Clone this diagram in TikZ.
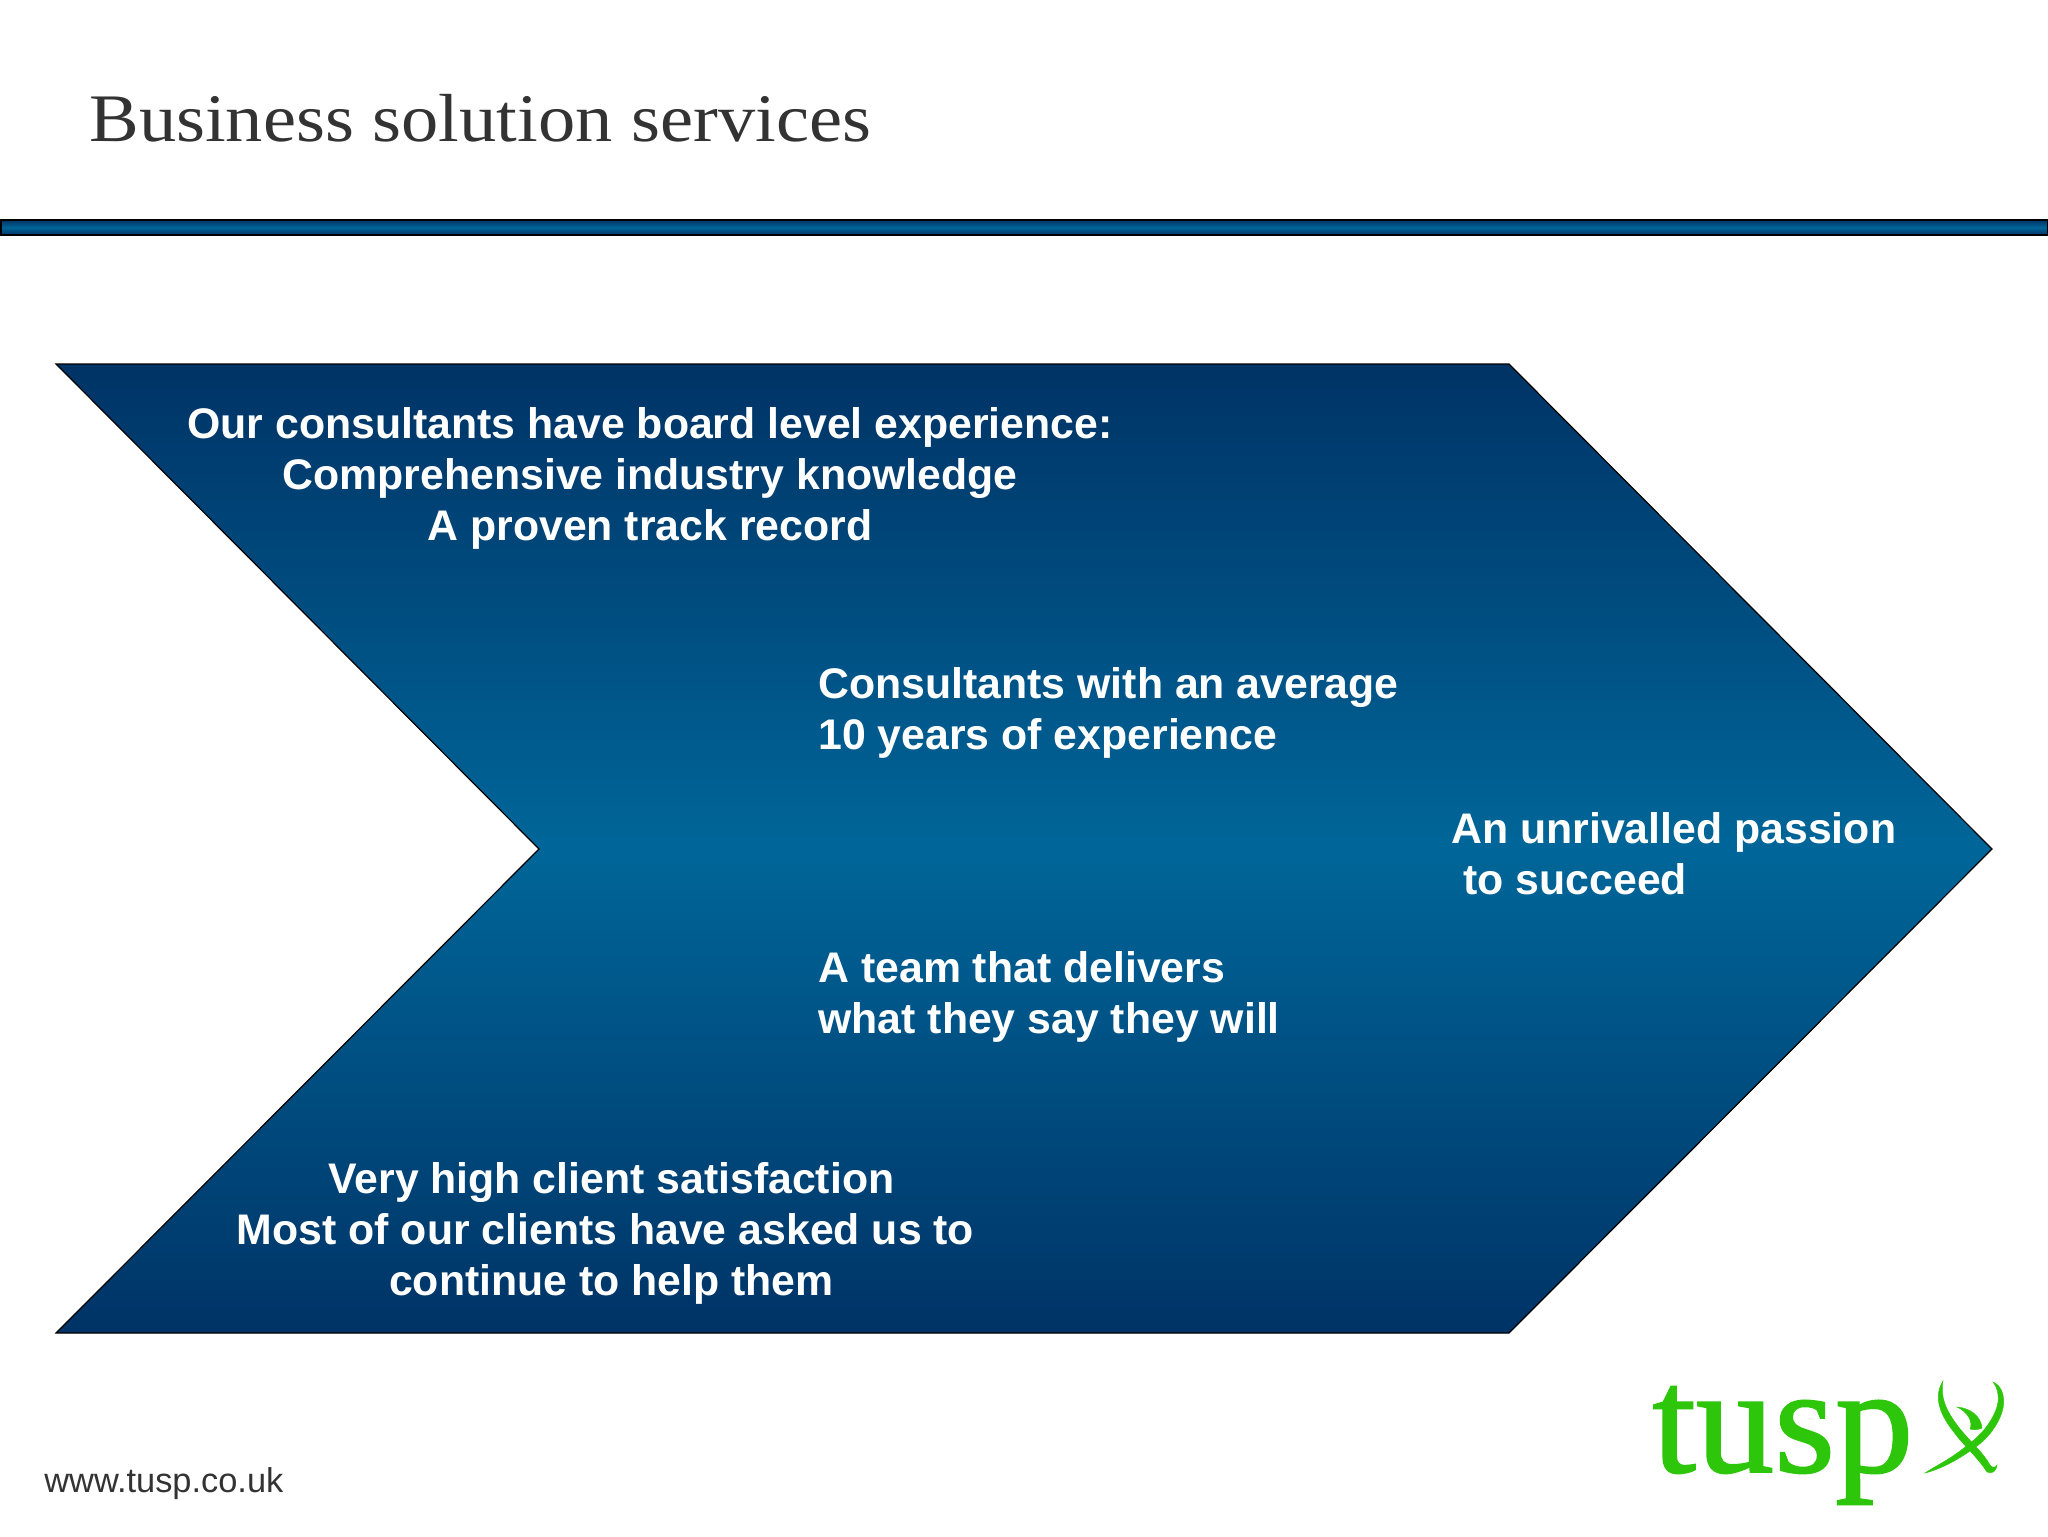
\documentclass[tikz,border=0pt]{standalone}
\usepackage{fontspec}
\setmainfont{Liberation Sans}
\newfontfamily\serifface[FakeStretch=1.095]{Liberation Serif}
\newfontfamily\logoface[FakeStretch=1.03,FakeBold=1.2]{Liberation Serif}
\definecolor{deepblue}{HTML}{003366}
\definecolor{midblue}{HTML}{006699}
\definecolor{logogreen}{HTML}{2DC60A}
\definecolor{titlegrey}{HTML}{333333}
\tikzset{
  x=0.5pt,y=-0.5pt,
  bodytext/.style={text=white,font=\fontsize{21.4}{25.5}\selectfont\bfseries,inner sep=0pt},
  leftblock/.style={bodytext,align=left,anchor=west},
  midblock/.style={bodytext,align=center,anchor=center},
  bladeshape/.style={draw=logogreen,line width=0.2pt,fill=logogreen}
}
\begin{document}
\begin{tikzpicture}
\useasboundingbox (0,0) rectangle (2048,1536);
\fill[white] (0,0) rectangle (2048,1536);
\node[anchor=base west,inner sep=0pt,text=titlegrey,font=\serifface\fontsize{34}{40}\selectfont] (title) at (89,141) {Business solution services};
\shade[top color=deepblue,bottom color=deepblue,middle color=midblue,shading angle=0] (0,220) rectangle (2048,235);
\draw[black,line width=1pt] (0.5,220) rectangle (2047.5,235);
\draw[black,line width=0.6pt,top color=deepblue,bottom color=deepblue,middle color=midblue]
  (56,364) -- (1509,364) -- (1992,849) -- (1509,1333) -- (56,1333) -- (539,849) -- cycle;
\node[midblock] (board) at (650,478) {Our consultants have board level experience:\\Comprehensive industry knowledge\\A proven track record};
\node[leftblock] (avg) at (818,713) {Consultants with an average\\10 years of experience};
\node[leftblock] (passion) at (1451,854) {An unrivalled passion\\\hspace*{6pt}to succeed};
\node[leftblock] (team) at (818,997) {A team that delivers\\what they say they will};
\node[midblock] (client) at (605.5,1233) {\hspace*{5.9pt}Very high client satisfaction\\Most of our clients have asked us to\\\hspace*{5.9pt}continue to help them};
\node[anchor=base west,inner sep=0pt,text=titlegrey,font=\fontsize{17.2}{20}\selectfont] (url) at (44,1492) {www.tusp.co.uk};
\node[anchor=base west,inner sep=0pt,text=logogreen,font=\logoface\fontsize{76}{80}\selectfont] (logo) at (1652,1472) {tusp};
% leaf mark
\fill[bladeshape] (1943,1381) .. controls (1934,1395) and (1938,1412) .. (1953,1431) .. controls (1962,1444) and (1975,1454) .. (1987,1472) .. controls (1992,1474) and (1996,1472) .. (1997,1465) .. controls (1995,1468) and (1992,1468) .. (1990,1465) .. controls (1983,1452) and (1970,1442) .. (1957,1425) .. controls (1946,1410) and (1940,1397) .. cycle;
\fill[bladeshape] (1993,1382) .. controls (2003,1386) and (2006,1400) .. (2002,1412) .. controls (1998,1425) and (1988,1438) .. (1977,1446) .. controls (1965,1455) and (1945,1468) .. (1925,1473) .. controls (1935,1466) and (1950,1460) .. (1970,1443) .. controls (1985,1432) and (1996,1415) .. (1998,1402) .. controls (1999,1394) and (1997,1387) .. cycle;
\fill[bladeshape] (1957,1407) .. controls (1970,1408) and (1981,1416) .. (1982,1428) .. controls (1978,1430) and (1973,1430) .. (1970,1429) .. controls (1973,1422) and (1968,1412) .. cycle;
\end{tikzpicture}
\end{document}
